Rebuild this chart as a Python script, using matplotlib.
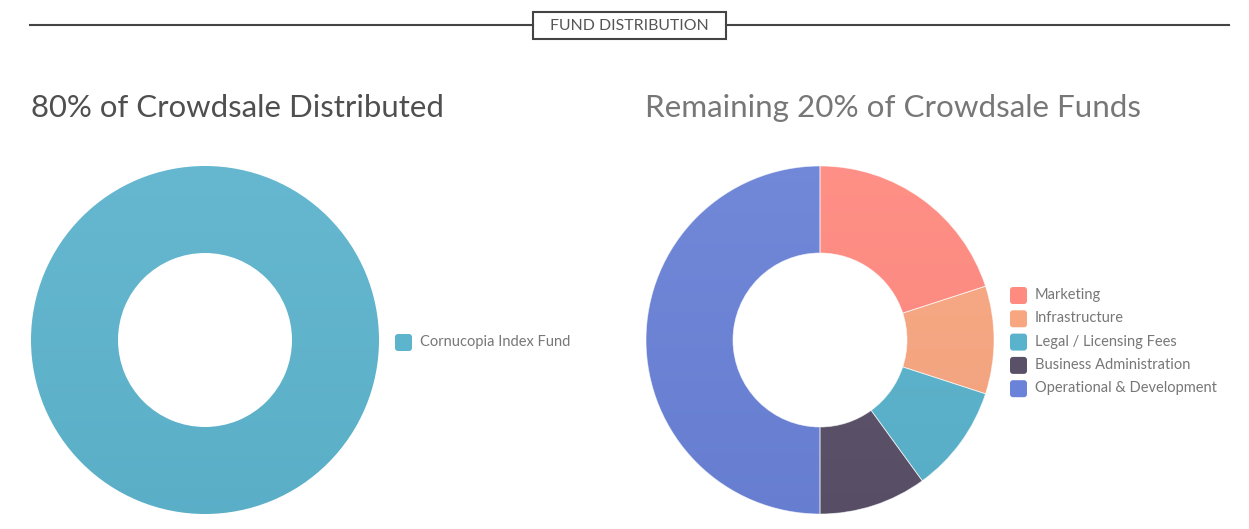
import numpy as np
import matplotlib.pyplot as plt
from matplotlib.patches import FancyBboxPatch, Rectangle
from matplotlib.colors import to_rgb

W, H = 1249, 529

header = "FUND DISTRIBUTION"
left_title = "80% of Crowdsale Distributed"
right_title = "Remaining 20% of Crowdsale Funds"

left_labels = ["Cornucopia Index Fund"]
left_values = [100]
left_colors = ["#5db4cd"]

right_labels = ["Marketing", "Infrastructure", "Legal / Licensing Fees",
                "Business Administration", "Operational & Development"]
right_values = [20, 10, 10, 10, 50]
right_colors = ["#ff8a80", "#f8a680", "#5ab3cc", "#5a5068", "#6a82d7"]

plt.rcParams['font.family'] = ['Lato', 'DejaVu Sans']


def yy(y):
    # pixel row -> data y
    return H - y


def shade(c, f):
    c = np.array(to_rgb(c))
    if f > 0:
        return c + (1 - c) * f
    return c * (1 + f)


def donut(ax, values, colors, cx, cy, r, w, edge):
    wedges, _ = ax.pie(values, colors=colors, startangle=90, counterclock=False,
                       radius=r, center=(cx, yy(cy)),
                       wedgeprops=dict(width=w, edgecolor=edge, linewidth=0.6))
    # soft vertical gradient like the original
    for wd, c in zip(wedges, colors):
        top = shade(c, 0.05)
        bot = shade(c, -0.03)
        t = np.linspace(0, 1, 200)[:, None, None]
        grad = top * (1 - t) + bot * t
        im = ax.imshow(grad, extent=(cx - r, cx + r, yy(cy) - r, yy(cy) + r),
                       origin='upper', aspect='auto', zorder=wd.get_zorder() - 0.1)
        im.set_clip_path(wd)
        wd.set_facecolor('none')
    return wedges


def legend(ax, labels, colors, x, y0, dy):
    for i, (lab, c) in enumerate(zip(labels, colors)):
        y = y0 + i * dy
        ax.add_patch(FancyBboxPatch((x + 2, yy(y + 7)), 13, 13,
                                    boxstyle="round,pad=2,rounding_size=3",
                                    fc=c, ec='none'))
        ax.text(x + 25, yy(y), lab, fontsize=10.5, color='#777777',
                ha='left', va='center')


fig = plt.figure(figsize=(W / 100, H / 100), dpi=100)
ax = fig.add_axes([0, 0, 1, 1])

# header
ax.plot([30, 533], [yy(25), yy(25)], color='#444444', lw=1.5)
ax.plot([726, 1229], [yy(25), yy(25)], color='#444444', lw=1.5)
ax.add_patch(Rectangle((533, yy(39)), 193, 27, fc='white', ec='#444444', lw=1.5))
ax.text(629.5, yy(25.5), header, fontsize=11.4, color='#555555', ha='center', va='center')

# titles
ax.text(31, yy(117), left_title, fontsize=22.4, color='#4f4f4f', ha='left', va='baseline')
ax.text(645, yy(117), right_title, fontsize=22.6, color='#777777', ha='left', va='baseline')

donut(ax, left_values, left_colors, 205, 340, 174, 87, 'none')
donut(ax, right_values, right_colors, 820, 340, 174, 87, (1, 1, 1, 0.6))

legend(ax, left_labels, left_colors, 395, 342, 23.3)
legend(ax, right_labels, right_colors, 1010, 295, 23.3)

ax.set_xlim(0, W)
ax.set_ylim(0, H)
ax.set_aspect('auto')
ax.axis('off')

fig.savefig('out.png', dpi=100, facecolor='white')
